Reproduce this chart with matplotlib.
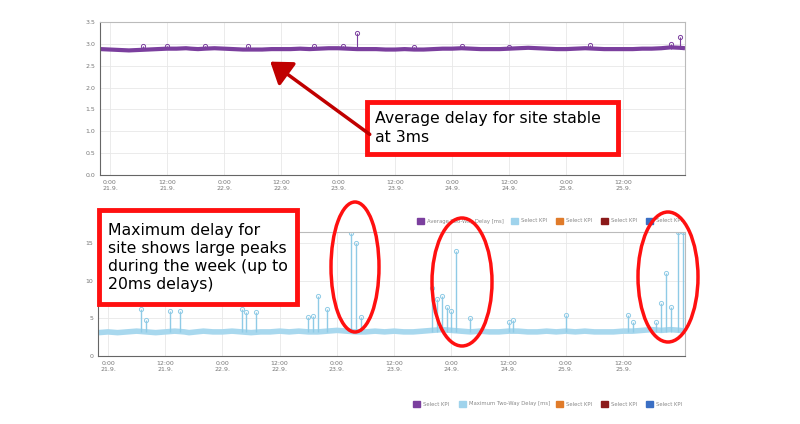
import matplotlib.pyplot as plt
from matplotlib.patches import Rectangle, Ellipse, FancyArrowPatch

# hours since 21.9. 0:00
avg_hours = [-2, 0, 2, 4, 6, 8, 10, 12, 14, 16, 17, 18.5, 20, 22, 24, 26, 28, 30, 32, 34, 36, 38, 40,
             42, 44, 46, 48, 50, 52, 54, 56, 58, 60, 62, 64, 66, 68, 70, 72, 74, 76, 78, 80, 82,
             84, 86, 88, 90, 92, 94, 96, 98, 100, 102, 104, 106, 108, 110, 112, 114, 116, 118, 120, 121]
avg_values = [2.88, 2.87, 2.86, 2.85, 2.86, 2.87, 2.88, 2.89, 2.89, 2.90, 2.89, 2.88, 2.89, 2.90,
              2.89, 2.88, 2.87, 2.87, 2.87, 2.88, 2.88, 2.88, 2.89, 2.88, 2.89, 2.90, 2.90, 2.89,
              2.88, 2.88, 2.88, 2.87, 2.87, 2.88, 2.87, 2.87, 2.88, 2.89, 2.89, 2.90, 2.89, 2.88,
              2.88, 2.88, 2.89, 2.90, 2.91, 2.90, 2.89, 2.88, 2.88, 2.89, 2.90, 2.89, 2.88, 2.88,
              2.88, 2.88, 2.89, 2.89, 2.90, 2.92, 2.91, 2.90]
avg_peak_hours = [7, 12, 20, 29, 43, 49, 52, 64, 74, 84, 101, 118, 120]
avg_peak_values = [2.94, 2.95, 2.95, 2.94, 2.95, 2.96, 3.25, 2.93, 2.95, 2.93, 2.97, 3.0, 3.15]

max_hours = avg_hours
max_values = [3.1, 3.2, 3.1, 3.2, 3.3, 3.2, 3.1, 3.2, 3.3, 3.2, 3.1, 3.2, 3.3, 3.2, 3.2, 3.3, 3.2,
              3.1, 3.2, 3.2, 3.3, 3.2, 3.3, 3.2, 3.2, 3.3, 3.4, 3.3, 3.2, 3.2, 3.3, 3.2, 3.3, 3.2,
              3.2, 3.3, 3.4, 3.5, 3.4, 3.3, 3.2, 3.3, 3.2, 3.2, 3.3, 3.3, 3.2, 3.2, 3.3, 3.2, 3.3,
              3.2, 3.3, 3.2, 3.2, 3.2, 3.3, 3.3, 3.4, 3.5, 3.4, 3.5, 3.4, 3.3]
max_peak_hours = [7, 8, 13, 15, 28, 29, 31, 42, 43, 44, 46, 51, 52, 53, 68, 69, 70, 71, 72, 73, 76,
                  84, 85, 96, 109, 110, 115, 116, 117, 118, 119.5, 120.5]
max_peak_values = [6.2, 4.8, 6.0, 6.0, 6.2, 5.8, 5.8, 5.2, 5.3, 8.0, 6.3, 16.3, 15.0, 5.2, 9.0, 7.5,
                   8.0, 6.5, 6.0, 14.0, 5.0, 4.5, 4.8, 5.5, 5.5, 4.5, 4.5, 7.0, 11.0, 6.5, 16.5, 16.5]

tick_pos = [0, 12, 24, 36, 48, 60, 72, 84, 96, 108]
tick_labels = ["0:00\n21.9.", "12:00\n21.9.", "0:00\n22.9.", "12:00\n22.9.", "0:00\n23.9.",
               "12:00\n23.9.", "0:00\n24.9.", "12:00\n24.9.", "0:00\n25.9.", "12:00\n25.9."]
legend_top = ["Average Two-Way Delay [ms]", "Select KPI", "Select KPI", "Select KPI", "Select KPI"]
legend_bottom = ["Select KPI", "Maximum Two-Way Delay [ms]", "Select KPI", "Select KPI", "Select KPI"]
top_colors = ["#7b3f9e", "#9fd3ec", "#e07b2a", "#8b1a1a", "#3a6fc4"]
bottom_colors = ["#7b3f9e", "#9fd3ec", "#e07b2a", "#8b1a1a", "#3a6fc4"]
top_legend_x = [417, 511, 556, 601, 646]
bottom_legend_x = [413, 459, 556, 601, 646]

W, H = 800, 424
fig = plt.figure(figsize=(8, 4.24), dpi=100)


def px_axes(x0, y0, x1, y1):
    return fig.add_axes([x0 / W, 1 - y1 / H, (x1 - x0) / W, (y1 - y0) / H])


def style(ax, ymax, yticks):
    ax.set_xlim(-2.1, 121)
    ax.set_ylim(0, ymax)
    ax.set_xticks(tick_pos)
    ax.set_xticklabels(tick_labels, fontsize=4.5, color="#777777")
    ax.set_yticks(yticks)
    ax.tick_params(axis="y", labelsize=4.5, colors="#777777", length=0)
    ax.tick_params(axis="x", length=0)
    ax.grid(color="#e8e8e8", lw=0.6)
    for s in ax.spines.values():
        s.set_color("#bbbbbb")
    ax.spines["left"].set_color("#666666")
    ax.spines["bottom"].set_color("#666666")


ax1 = px_axes(100, 22, 685, 175)
style(ax1, 3.5, [0, 0.5, 1, 1.5, 2, 2.5, 3, 3.5])
ax1.set_yticklabels(["0.0", "0.5", "1.0", "1.5", "2.0", "2.5", "3.0", "3.5"])
ax1.plot(avg_hours, avg_values, color="#7b3f9e", lw=3, solid_capstyle="butt")
ax1.vlines(avg_peak_hours, 2.88, avg_peak_values, color="#7b3f9e", lw=0.8)
ax1.plot(avg_peak_hours, avg_peak_values, "o", mfc="none", mec="#7b3f9e", ms=3, mew=0.7)

ax2 = px_axes(98, 232, 685, 356)
style(ax2, 16.46, [0, 5, 10, 15])
ax2.plot(max_hours, max_values, color="#a8d8ee", lw=4, solid_capstyle="butt")
ax2.vlines(max_peak_hours, 3.2, max_peak_values, color="#8fcbe6", lw=1.0)
ax2.plot(max_peak_hours, max_peak_values, "o", mfc="none", mec="#8fcbe6", ms=3, mew=0.7)


def legend_row(y, labels, colors, xs):
    for x, lab, c in zip(xs, labels, colors):
        fig.patches.append(Rectangle((x / W, 1 - (y + 3) / H), 7 / W, 6 / H,
                                     transform=fig.transFigure, color=c))
        fig.text((x + 10) / W, 1 - y / H, lab, fontsize=3.8, color="#888888", va="center")


legend_row(221, legend_top, top_colors, top_legend_x)
legend_row(404, legend_bottom, bottom_colors, bottom_legend_x)

# annotations (figure pixel coords)
fig.patches.append(Rectangle((367 / W, 1 - 154 / H), 251 / W, 52 / H, transform=fig.transFigure,
                             fc="white", ec="#ff1010", lw=3.5, zorder=5))
fig.text(375 / W, 1 - 128 / H, "Average delay for site stable\nat 3ms", fontsize=11.3,
         va="center", ha="left", zorder=6, linespacing=1.3)
fig.patches.append(FancyArrowPatch((372 / W, 1 - 136 / H), (268 / W, 1 - 60 / H),
                                   transform=fig.transFigure, arrowstyle="-|>,head_length=5,head_width=3.5",
                                   color="#c00000", lw=2.5, mutation_scale=2.5, zorder=5))
fig.patches.append(Rectangle((99 / W, 1 - 304 / H), 198 / W, 94 / H, transform=fig.transFigure,
                             fc="white", ec="#ff1010", lw=3.5, zorder=5))
fig.text(108 / W, 1 - 257 / H, "Maximum delay for\nsite shows large peaks\nduring the week (up to\n20ms delays)",
         fontsize=11.3, va="center", ha="left", zorder=6, linespacing=1.25)
for cx, cy, w, h in [(355, 267, 48, 130), (462, 282, 60, 128), (668, 277, 60, 130)]:
    fig.patches.append(Ellipse((cx / W, 1 - cy / H), w / W, h / H, transform=fig.transFigure,
                               fill=False, ec="#ff1010", lw=2.5, zorder=5))

fig.savefig("out.png", dpi=100)
